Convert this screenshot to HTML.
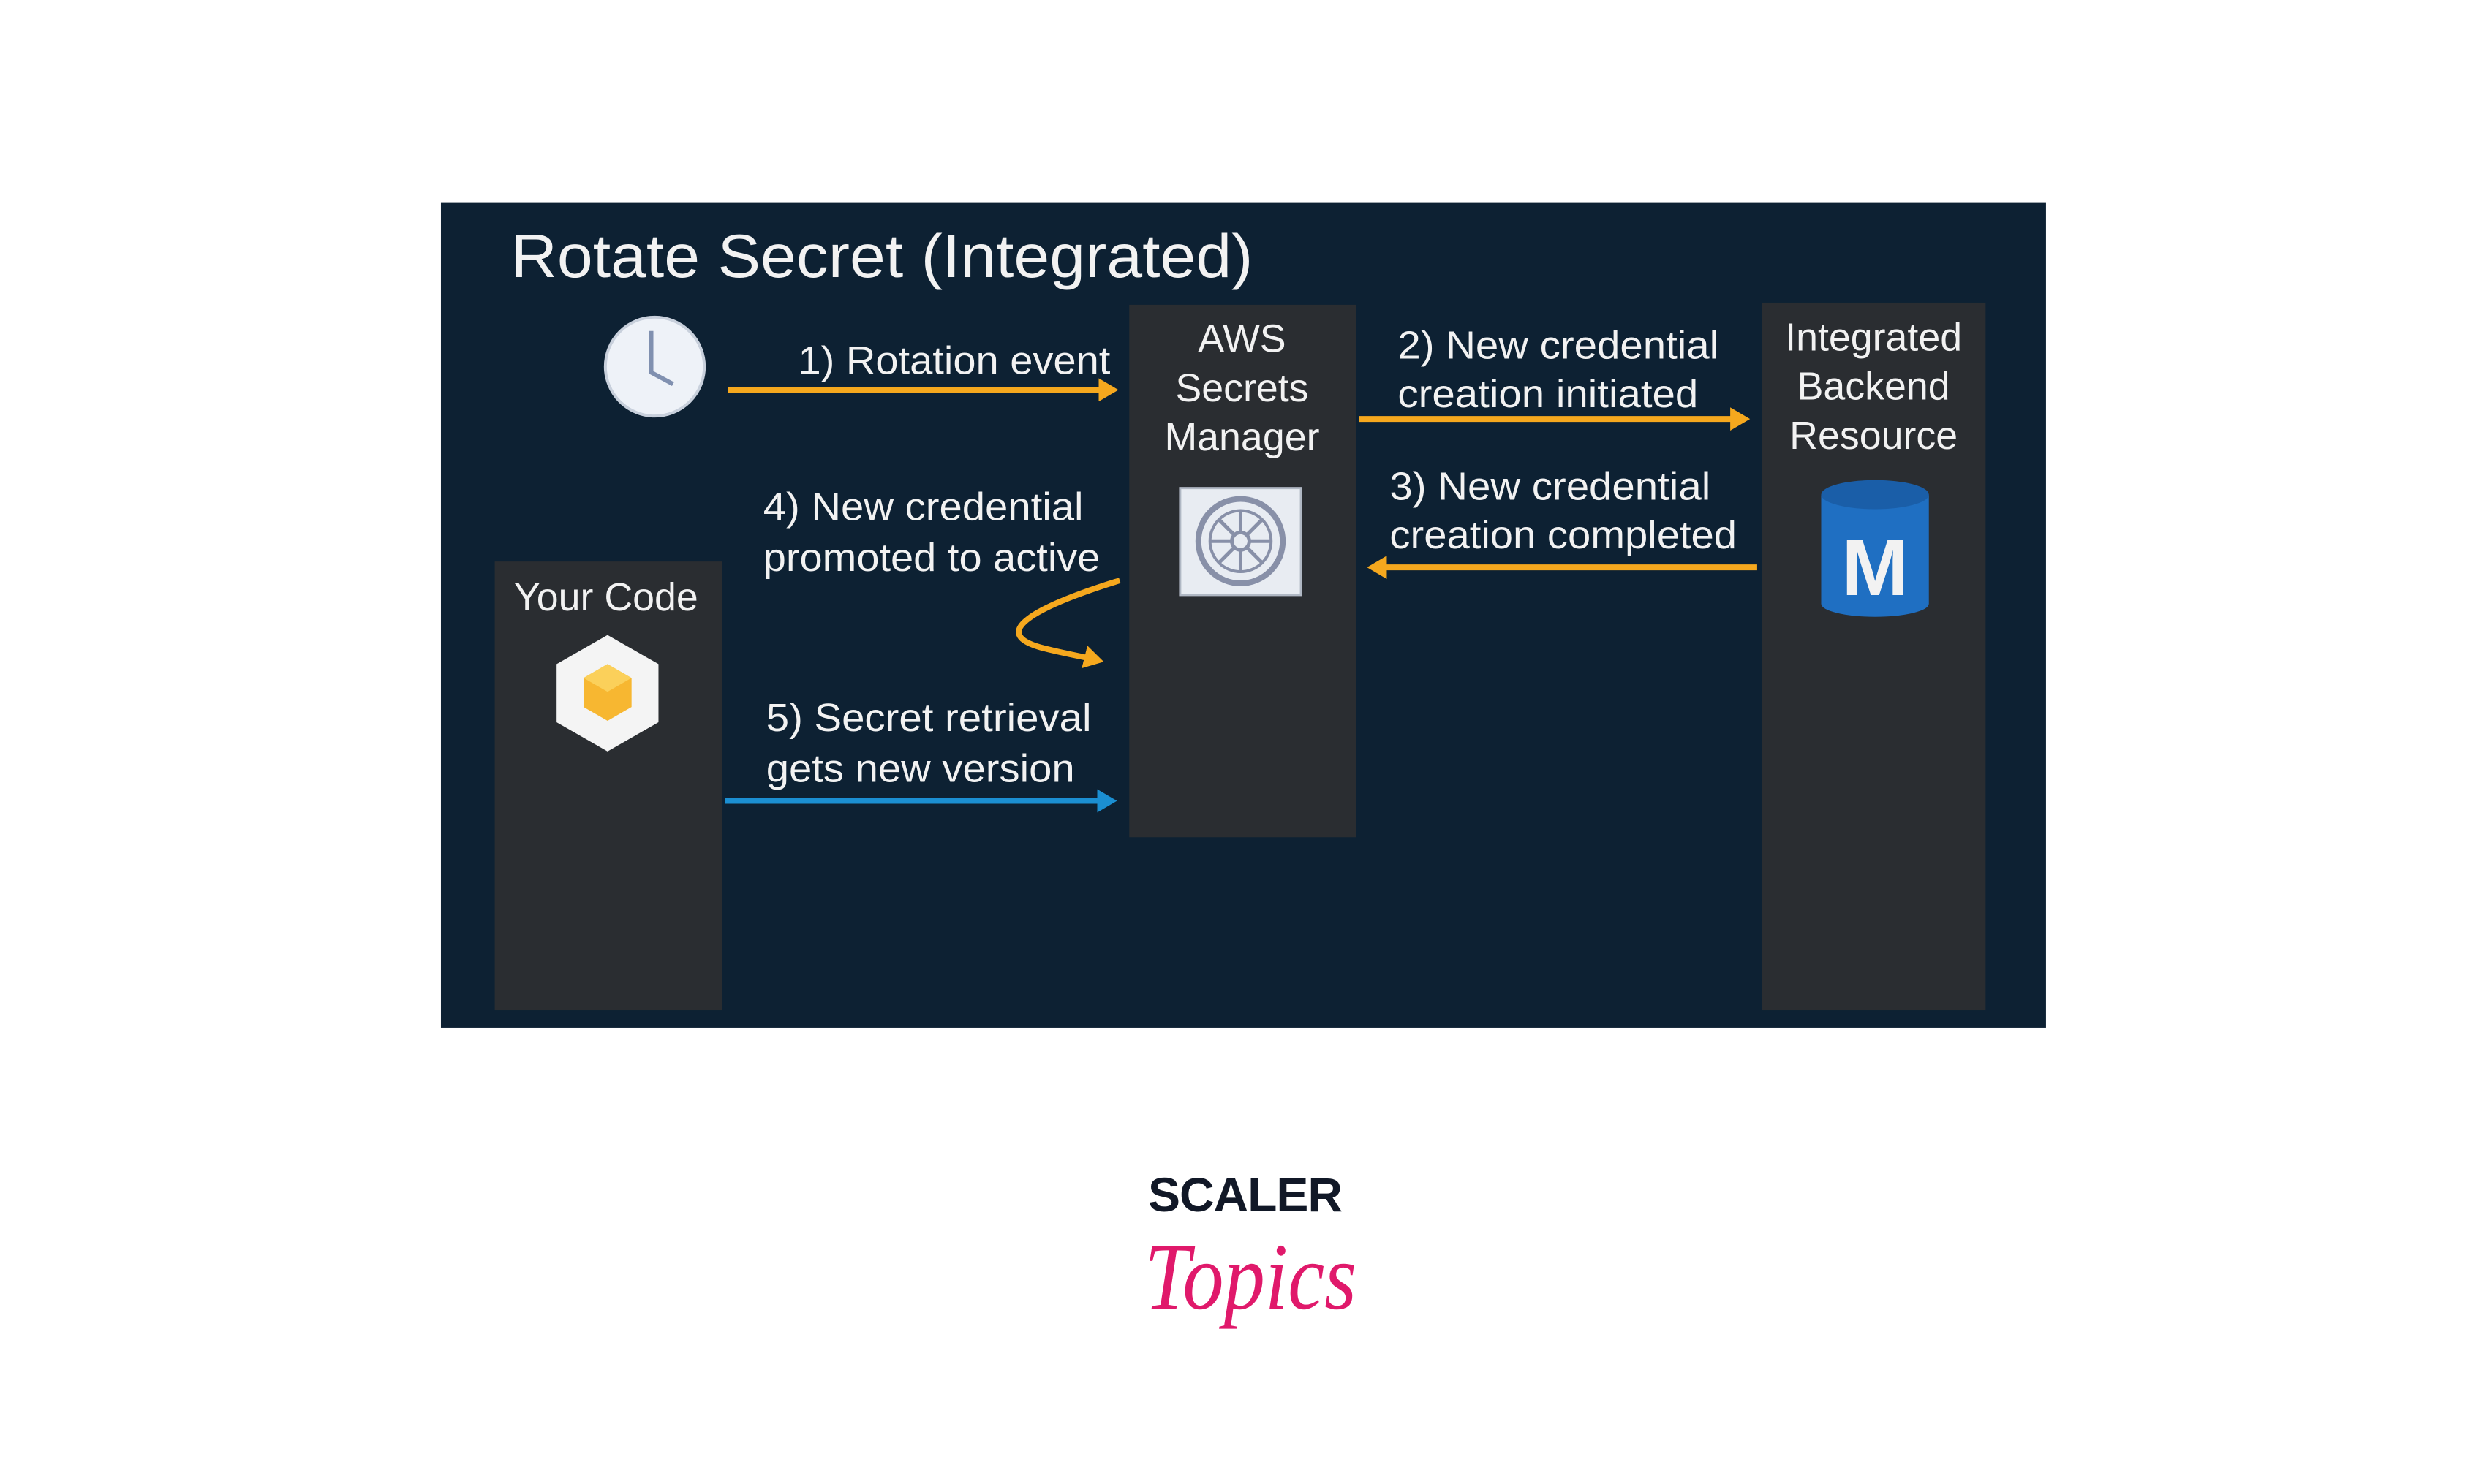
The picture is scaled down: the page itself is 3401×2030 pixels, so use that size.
<!DOCTYPE html>
<html><head><meta charset="utf-8"><style>
html,body{margin:0;padding:0;background:#fff;width:3401px;height:2030px;overflow:hidden}
svg{display:block}
text{font-family:"Liberation Sans",Arial,sans-serif;fill:#f2f2f2}
</style></head><body>
<svg width="3401" height="2030" viewBox="0 0 3401 2030" xmlns="http://www.w3.org/2000/svg">
<defs>
<marker id="ao" markerWidth="4" markerHeight="4" refX="2.5" refY="2" orient="auto" markerUnits="strokeWidth"><path d="M0,0 L3.4,2 L0,4 Z" fill="#f5a81e"/></marker>
<marker id="ab" markerWidth="4" markerHeight="4" refX="2.5" refY="2" orient="auto" markerUnits="strokeWidth"><path d="M0,0 L3.4,2 L0,4 Z" fill="#1b8fd2"/></marker>
</defs>
<g transform="scale(0.995)">
<rect x="606" y="279" width="2206" height="1134" fill="#0d2133"/>
<text x="702" y="381" font-size="84" textLength="1020" lengthAdjust="spacingAndGlyphs">Rotate Secret (Integrated)</text>
<rect x="1552" y="419" width="312" height="732" fill="#2a2d31"/>
<rect x="2422" y="416" width="307" height="973" fill="#2a2d31"/>
<rect x="680" y="772" width="312" height="617" fill="#2a2d31"/>
<circle cx="900" cy="504" r="68" fill="#eef2f8" stroke="#c8d0dc" stroke-width="4"/>
<path d="M895,455 L895,512 L925,528" stroke="#8090b0" stroke-width="6" fill="none"/>
<g font-size="54" text-anchor="middle">
<text x="1707" y="484">AWS</text><text x="1707" y="552">Secrets</text><text x="1707" y="619">Manager</text>
<text x="2575" y="482">Integrated</text><text x="2575" y="549">Backend</text><text x="2575" y="617">Resource</text>
<text x="833" y="839">Your Code</text>
</g>
<rect x="1622" y="671" width="166" height="147" fill="#e8ecf2" stroke="#b0b8c4" stroke-width="3"/>
<circle cx="1705" cy="744" r="58" fill="none" stroke="#8890a8" stroke-width="8"/>
<circle cx="1705" cy="744" r="42" fill="none" stroke="#8890a8" stroke-width="4"/>
<g stroke="#8890a8" stroke-width="5"><line x1="1705" y1="702" x2="1705" y2="786"/><line x1="1663" y1="744" x2="1747" y2="744"/><line x1="1675" y1="714" x2="1735" y2="774"/><line x1="1735" y1="714" x2="1675" y2="774"/></g>
<circle cx="1705" cy="744" r="12" fill="#e8ecf2" stroke="#8890a8" stroke-width="5"/>
<path d="M2503,680 L2503,830 A74,18 0 0 0 2651,830 L2651,680 Z" fill="#1f6fc2"/>
<ellipse cx="2577" cy="680" rx="74" ry="20" fill="#1a5ea8"/>
<text x="2577" y="818" font-size="110" font-weight="bold" text-anchor="middle" fill="#fff">M</text>
<polygon points="835,873 905,913 905,993 835,1033 765,993 765,913" fill="#f4f4f4"/>
<polygon points="835,913 868,932 868,972 835,991 802,972 802,932" fill="#f7b731"/>
<polygon points="835,913 868,932 835,951 802,932" fill="#fbd05a"/>
<g stroke="#f5a81e" stroke-width="8" fill="none">
<line x1="1001" y1="536" x2="1530" y2="536" marker-end="url(#ao)"/>
<line x1="1868" y1="576" x2="2398" y2="576" marker-end="url(#ao)"/>
<line x1="2415" y1="780" x2="1886" y2="780" marker-end="url(#ao)"/>
<path d="M1539,798 C1420,835 1360,870 1430,890 C1460,898 1490,903 1510,908" marker-end="url(#ao)"/>
</g>
<line x1="996" y1="1101" x2="1528" y2="1101" stroke="#1b8fd2" stroke-width="8" marker-end="url(#ab)"/>
<g font-size="54">
<text x="1097" y="514" textLength="429" lengthAdjust="spacingAndGlyphs">1) Rotation event</text>
<text x="1921" y="493" textLength="441" lengthAdjust="spacingAndGlyphs">2) New credential</text>
<text x="1921" y="560" textLength="413" lengthAdjust="spacingAndGlyphs">creation initiated</text>
<text x="1910" y="687" textLength="441" lengthAdjust="spacingAndGlyphs">3) New credential</text>
<text x="1910" y="754" textLength="477" lengthAdjust="spacingAndGlyphs">creation completed</text>
<text x="1049" y="715" textLength="440" lengthAdjust="spacingAndGlyphs">4) New credential</text>
<text x="1049" y="785" textLength="463" lengthAdjust="spacingAndGlyphs">promoted to active</text>
<text x="1053" y="1005" textLength="447" lengthAdjust="spacingAndGlyphs">5) Secret retrieval</text>
<text x="1053" y="1075" textLength="424" lengthAdjust="spacingAndGlyphs">gets new version</text>
</g>
</g>
<text x="1570" y="1657" font-size="66" font-weight="bold" style="fill:#111827" textLength="266" lengthAdjust="spacing">SCALER</text>
<text x="1565" y="1790" font-size="130" font-style="italic" style="fill:#e0196b;font-family:'Liberation Serif',serif" textLength="290" lengthAdjust="spacingAndGlyphs">Topics</text>
</svg>
</body></html>
